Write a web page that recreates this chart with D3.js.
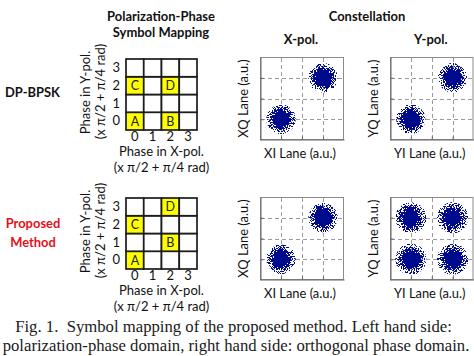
<!DOCTYPE html>
<html><head><meta charset="utf-8">
<script src="https://cdn.jsdelivr.net/npm/d3@7"></script>
<style>html,body{margin:0;padding:0;background:#fff;overflow:hidden}</style>
</head><body>
<svg id="chart" width="474" height="356"></svg>
<script>
// ---------- data ----------
const phaseTicks = [0, 1, 2, 3];
const symbolLabels = ["A", "B", "C", "D"];
const dpbpskXPhase = [0, 2, 0, 2];
const dpbpskYPhase = [0, 0, 2, 2];
const proposedXPhase = [0, 2, 0, 2];
const proposedYPhase = [0, 1, 2, 3];
const laneTicks = [-1, 0, 1];
const dpbpskXI = [-1, 1], dpbpskXQ = [-1, 1];
const dpbpskYI = [-1, 1], dpbpskYQ = [-1, 1];
const proposedXI = [-1, 1], proposedXQ = [-1, 1];
const proposedYI = [-1, 1, -1, 1], proposedYQ = [-1, -1, 1, 1];
const clusterSpread = [0.15, 0.15, 0.15, 0.16]; // estimated noise std-dev per panel (a.u.)
const rowNames = [["DP-BPSK"], ["Proposed", "Method"]];
const polNames = ["X-pol.", "Y-pol."];
const captionLines = ["Fig. 1.\u00a0 Symbol mapping of the proposed method. Left hand side:",
                      "polarization-phase domain, right hand side: orthogonal phase domain."];

// ---------- layout ----------
const svg = d3.select("#chart");
const FONT = "Lato, 'Open Sans', sans-serif";
const gridX = [126, 197];
const gridRows = [[59, 130], [198, 269]];
const plotCols = [[260, 344], [390, 473.5]];
const plotRows = [[57, 140], [197, 280]];

function fitFont(sel, target) {
  const w = sel.node().getComputedTextLength();
  const fs = parseFloat(sel.attr("font-size"));
  return fs * target / w;
}
function txt(g, s, x, y, size, opts = {}) {
  const t = g.append("text").attr("x", x).attr("y", y).text(s)
    .attr("font-family", opts.family || FONT).attr("font-size", size)
    .attr("font-weight", opts.weight || "normal").attr("fill", opts.fill || "#111")
    .attr("text-anchor", opts.anchor || "middle");
  if (opts.rotate) t.attr("transform", `rotate(-90,${x},${y})`);
  return t;
}

// ---------- defs: speckled scatter clouds ----------
const defs = svg.append("defs");
[["dense", 0.38], ["sparse", 0.28]].forEach(([id, solid]) => {
  const gr = defs.append("radialGradient").attr("id", "cloud-" + id);
  gr.append("stop").attr("offset", 0).attr("stop-color", "#000a8c").attr("stop-opacity", 1);
  gr.append("stop").attr("offset", solid).attr("stop-color", "#000a8c").attr("stop-opacity", 1);
  gr.append("stop").attr("offset", 0.75).attr("stop-color", "#000a8c").attr("stop-opacity", 0.25);
  gr.append("stop").attr("offset", 1).attr("stop-color", "#000a8c").attr("stop-opacity", 0.02);
});
const f = defs.append("filter").attr("id", "speckle")
  .attr("x", "-5%").attr("y", "-5%").attr("width", "110%").attr("height", "110%")
  .attr("color-interpolation-filters", "sRGB");
f.append("feTurbulence").attr("type", "fractalNoise").attr("baseFrequency", 0.9)
  .attr("numOctaves", 2).attr("seed", 7).attr("result", "noise");
f.append("feColorMatrix").attr("in", "noise").attr("type", "matrix")
  .attr("values", "0 0 0 0 0  0 0 0 0 0  0 0 0 0 0  2.6 0 0 0 -0.8").attr("result", "na");
f.append("feComposite").attr("in", "SourceAlpha").attr("in2", "na").attr("operator", "arithmetic")
  .attr("k1", 0).attr("k2", 1).attr("k3", 1).attr("k4", -0.22).attr("result", "mix");
const ct = f.append("feComponentTransfer").attr("in", "mix").attr("result", "dots");
ct.append("feFuncA").attr("type", "discrete").attr("tableValues", "0 1");
const ct2 = f.append("feComponentTransfer").attr("in", "SourceAlpha").attr("result", "mask");
ct2.append("feFuncA").attr("type", "linear").attr("slope", 80).attr("intercept", 0);
f.append("feComposite").attr("in", "dots").attr("in2", "mask").attr("operator", "in").attr("result", "dm");
f.append("feFlood").attr("flood-color", "#000a8c").attr("result", "col");
f.append("feComposite").attr("in", "col").attr("in2", "dm").attr("operator", "in");

// ---------- titles ----------
const tg = svg.append("g");
const t1 = txt(tg, "Polarization-Phase", 161, 21, 13, { weight: "bold" });
const titleSize = fitFont(t1, 108);
t1.attr("font-size", titleSize);
txt(tg, "Symbol Mapping", 161, 37, titleSize, { weight: "bold" });
txt(tg, "Constellation", 367, 21, titleSize, { weight: "bold" });
polNames.forEach((p, k) => {
  txt(tg, p, (plotCols[k][0] + plotCols[k][1]) / 2 - 1, 44, titleSize, { weight: "bold" });
});

// row names
const rn = txt(tg, rowNames[0][0], 32.5, 97, 14, { weight: "bold" });
const rowSize = fitFont(rn, 55);
rn.attr("font-size", rowSize);
rowNames[1].forEach((s, k) => {
  txt(tg, s, 33, 228 + k * 19, rowSize, { weight: "bold", fill: "#e3111b" });
});

// ---------- polarization-phase mapping grids ----------
const mappings = [
  { xp: dpbpskXPhase, yp: dpbpskYPhase },
  { xp: proposedXPhase, yp: proposedYPhase }
];
let labSize = null;
mappings.forEach((m, r) => {
  const [y0, y1] = gridRows[r];
  const xb = d3.scaleBand().domain(phaseTicks).range(gridX);
  const yb = d3.scaleBand().domain(phaseTicks).range([y1, y0]);
  const g = svg.append("g");
  const filled = new Set(symbolLabels.map((s, k) => m.xp[k] + "," + m.yp[k]));
  g.selectAll("rect.cell").data(d3.cross(phaseTicks, phaseTicks)).join("rect")
    .attr("class", "cell")
    .attr("x", d => xb(d[0])).attr("y", d => yb(d[1]))
    .attr("width", xb.bandwidth()).attr("height", yb.bandwidth())
    .attr("fill", d => filled.has(d[0] + "," + d[1]) ? "#ffff00" : "#fff")
    .attr("stroke", "#1c1c1c").attr("stroke-width", 1.7);
  g.selectAll("text.sym").data(symbolLabels).join("text").attr("class", "sym")
    .attr("x", (d, k) => xb(m.xp[k]) + xb.bandwidth() / 2)
    .attr("y", (d, k) => yb(m.yp[k]) + yb.bandwidth() / 2)
    .attr("dy", "0.36em").attr("text-anchor", "middle")
    .attr("font-family", FONT).attr("font-size", 12.5).attr("fill", "#222")
    .text(d => d);

  const ax = g.append("g").attr("transform", `translate(0,${y1})`)
    .call(d3.axisBottom(xb).tickSize(0).tickPadding(2));
  ax.select(".domain").remove();
  ax.selectAll("text").attr("font-family", FONT).attr("font-size", 13).attr("fill", "#111");
  const ay = g.append("g").attr("transform", `translate(${gridX[0]},0)`)
    .call(d3.axisLeft(yb).tickSize(0).tickPadding(6));
  ay.select(".domain").remove();
  ay.selectAll("text").attr("font-family", FONT).attr("font-size", 13).attr("fill", "#111");

  const cx = (gridX[0] + gridX[1]) / 2;
  const l1 = txt(g, "Phase in X-pol.", cx, y1 + 26, 12.5);
  if (labSize === null) labSize = fitFont(l1, 85);
  l1.attr("font-size", labSize);
  txt(g, "(x \u03c0/2 + \u03c0/4 rad)", cx, y1 + 42, labSize);
  const cy = (y0 + y1) / 2 - 2;
  txt(g, "Phase in Y-pol.", 89.5, cy, labSize, { rotate: true });
  txt(g, "(x \u03c0/2 + \u03c0/4 rad)", 104.5, cy - 1, labSize, { rotate: true });
});

// ---------- constellations ----------
const constellations = [
  [{ i: dpbpskXI, q: dpbpskXQ }, { i: dpbpskYI, q: dpbpskYQ }],
  [{ i: proposedXI, q: proposedXQ }, { i: proposedYI, q: proposedYQ }]
];
let laneSize = null;
constellations.forEach((row, r) => {
  row.forEach((c, k) => {
    const [px0, px1] = plotCols[k];
    const [py0, py1] = plotRows[r];
    const x = d3.scaleLinear().domain([-2, 2]).range([px0, px1]);
    const y = d3.scaleLinear().domain([-2, 2]).range([py1, py0]);
    const g = svg.append("g");
    g.append("rect").attr("x", px0 + 0.5).attr("y", py0 + 0.5)
      .attr("width", px1 - px0 - 1).attr("height", py1 - py0 - 1)
      .attr("fill", "#fff").attr("stroke", "#8c8c8c").attr("stroke-width", 1);
    g.selectAll("line.gx").data(laneTicks).join("line")
      .attr("x1", d => Math.round(x(d)) + 0.5).attr("x2", d => Math.round(x(d)) + 0.5)
      .attr("y1", py0 + 1).attr("y2", py1 - 1)
      .attr("stroke", "#9b9b9b").attr("stroke-dasharray", "4,3");
    g.selectAll("line.gy").data(laneTicks).join("line")
      .attr("y1", d => Math.round(y(d)) + 0.5).attr("y2", d => Math.round(y(d)) + 0.5)
      .attr("x1", px0 + 1).attr("x2", px1 - 1)
      .attr("stroke", "#9b9b9b").attr("stroke-dasharray", "4,3");
    const axb = g.append("g").attr("transform", `translate(0,${py1 - 0.5})`)
      .call(d3.axisBottom(x).tickValues(laneTicks).tickSizeInner(-3).tickSizeOuter(0).tickFormat(""));
    axb.select(".domain").attr("stroke", "#666");
    axb.selectAll("line").attr("stroke", "#666");
    const axl = g.append("g").attr("transform", `translate(${px0 + 0.5},0)`)
      .call(d3.axisLeft(y).tickValues(laneTicks).tickSizeInner(-3).tickSizeOuter(0).tickFormat(""));
    axl.select(".domain").attr("stroke", "#666");
    axl.selectAll("line").attr("stroke", "#666");

    const sd = clusterSpread[r * 2 + k];
    const pts = c.i.map((v, j) => [v, c.q[j]]);
    g.selectAll("circle.cloud").data(pts).join("circle").attr("class", "cloud")
      .attr("cx", d => x(d[0])).attr("cy", d => y(d[1]))
      .attr("r", x(4.6 * sd) - x(0))
      .attr("fill", r === 1 && k === 1 ? "url(#cloud-sparse)" : "url(#cloud-dense)")
      .attr("filter", "url(#speckle)");

    const lx = (px0 + px1) / 2 - 2;
    const p = k === 0 ? "X" : "Y";
    const lb = txt(g, p + "I Lane (a.u.)", lx, py1 + 18, 13);
    if (laneSize === null) laneSize = fitFont(lb, 72);
    lb.attr("font-size", laneSize);
    txt(g, p + "Q Lane (a.u.)", px0 - 12, (py0 + py1) / 2, laneSize, { rotate: true });
  });
});

// ---------- caption ----------
const cg = svg.append("g");
const c1 = txt(cg, captionLines[0], 233.5, 332, 16, { family: "'Liberation Serif', 'Times New Roman', serif", fill: "#1a1a1a" });
const capSize = fitFont(c1, 437);
c1.attr("font-size", capSize);
txt(cg, captionLines[1], 236, 351, capSize, { family: "'Liberation Serif', 'Times New Roman', serif", fill: "#1a1a1a" });
</script>
</body></html>
